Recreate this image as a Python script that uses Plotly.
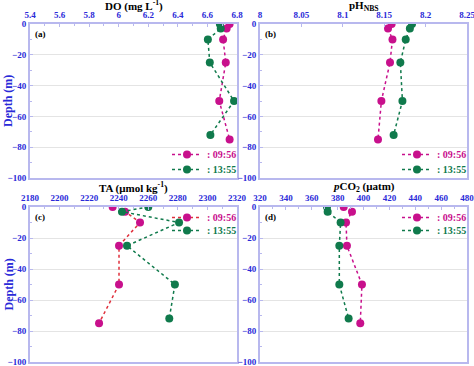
import plotly.graph_objects as go

# ---- data ----
depth_am = [0, -3, -10, -25, -50, -75]
depth_pm = [0, -3, -10, -25, -50, -72]

do_am = [6.75, 6.73, 6.706, 6.724, 6.68, 6.75]
do_pm = [6.684, 6.69, 6.603, 6.616, 6.78, 6.62]

ph_am = [8.159, 8.1546, 8.160, 8.157, 8.1466, 8.1425]
ph_pm = [8.1836, 8.181, 8.176, 8.1695, 8.172, 8.1614]

ta_am = [2235.9, 2244.3, 2254.4, 2240.2, 2240.2, 2226.7]
ta_pm = [2260.0, 2242.2, 2280.8, 2245.6, 2278.0, 2274.2]

pco2_am = [384.7, 391.1, 386.5, 387.2, 398.8, 397.5]
pco2_pm = [371.8, 372.3, 382.3, 381.3, 381.3, 388.5]

series_names = [": 09:56", ": 13:55"]
panel_labels = ["(a)", "(b)", "(c)", "(d)"]
x_titles = ["DO (mg L<sup>-1</sup>)", "pH<sub>NBS</sub>",
            "TA (\u03bcmol kg<sup>-1</sup>)", "<i>p</i>CO<sub>2</sub> (\u03bcatm)"]
y_title = "Depth (m)"

MAG = "#c8108c"
GRN = "#107a4c"
FONT = "Liberation Serif"
TICKC = "#2a2ad8"
AXC = "#b8b8ee"

W, H = 474, 366
ML, MR, MT, MB = 30, 7, 24, 4
PW, PH = W - ML - MR, H - MT - MB


def px_x(px):
    return (px - ML) / PW


def px_y(py):
    return (H - MB - py) / PH


fig = go.Figure()

panels = [
    (do_am, do_pm, "x", "y", [5.4, 6.8], 0.2, MAG),
    (ph_am, ph_pm, "x2", "y2", [8.0, 8.25], 0.05, MAG),
    (ta_am, ta_pm, "x3", "y3", [2180, 2320], 20, "#e0303c"),
    (pco2_am, pco2_pm, "x4", "y4", [320, 480], 20, MAG),
]

for i, (am, pm, xa, ya, rng, dt, amline) in enumerate(panels):
    fig.add_trace(go.Scatter(
        x=am, y=depth_am, xaxis=xa, yaxis=ya, mode="lines+markers",
        name=series_names[0], legend="legend" if i == 0 else f"legend{2*i+1}",
        line=dict(color=amline, dash="dot", width=1.5),
        marker=dict(color=MAG, size=8)))
    fig.add_trace(go.Scatter(
        x=pm, y=depth_pm, xaxis=xa, yaxis=ya, mode="lines+markers",
        name=series_names[1], legend=f"legend{2*i+2}",
        line=dict(color=GRN, dash="dot", width=1.5),
        marker=dict(color=GRN, size=8)))

xdoms_px = [(30, 237), (260, 467)]
ydoms_px = [(24, 178), (207, 362)]
xdoms = [[max(0, px_x(a)), min(1, px_x(b))] for a, b in xdoms_px]
ydoms = [[max(0, px_y(b)), min(1, px_y(a))] for a, b in ydoms_px]

layout = dict(
    width=W, height=H, margin=dict(l=ML, r=MR, t=MT, b=MB, autoexpand=False),
    plot_bgcolor="white", paper_bgcolor="white",
    font=dict(family=FONT, color="black"),
    showlegend=True,
)

for i, (am, pm, xa, ya, rng, dt, amline) in enumerate(panels):
    col = i % 2
    row = i // 2
    xk = "xaxis" if i == 0 else f"xaxis{i+1}"
    yk = "yaxis" if i == 0 else f"yaxis{i+1}"
    layout[xk] = dict(
        domain=xdoms[col], anchor=ya, side="top", range=rng, dtick=dt,
        automargin=False, ticklabeloverflow="allow",
        showgrid=False, zeroline=False, showline=True, linecolor=AXC,
        linewidth=2, mirror=True, ticks="inside", ticklen=3, tickcolor=AXC,
        minor=dict(ticks="inside", ticklen=2, tickcolor=AXC, nticks=2),
        tickfont=dict(family=FONT, size=9, color=TICKC, weight="bold"),
    )
    layout[yk] = dict(
        domain=ydoms[row], anchor=xa, range=[-100, 0], dtick=20,
        automargin=False, ticklabeloverflow="allow",
        showgrid=True, gridcolor="#e4e4e4", gridwidth=1, zeroline=False,
        showline=True, linecolor=AXC, linewidth=2, mirror=True,
        ticks="inside", ticklen=3, tickcolor=AXC,
        minor=dict(ticks="inside", ticklen=2, tickcolor=AXC, dtick=10),
        tickfont=dict(family=FONT, size=9, color=TICKC, weight="bold"),
    )

# legends (pixel tops)
leg_tops = {0: (140, 155), 1: (140, 155), 2: (203, 216), 3: (203, 216)}
for i in range(4):
    col = i % 2
    xr = px_x(xdoms_px[col][1] + 5)
    t1, t2 = leg_tops[i]
    k1 = "legend" if i == 0 else f"legend{2*i+1}"
    k2 = f"legend{2*i+2}"
    for k, yy, c in [(k1, px_y(t1), MAG), (k2, px_y(t2), GRN)]:
        layout[k] = dict(x=xr, y=yy, xanchor="right", yanchor="top",
                         bgcolor="rgba(0,0,0,0)", itemwidth=30,
                         font=dict(family=FONT, size=10, color=c, weight="bold"),
                         tracegroupgap=0)

fig.update_layout(**layout)

# axis titles and panel labels
title_y_px = [6, 187]
for i, lab in enumerate(panel_labels):
    col = i % 2
    row = i // 2
    fig.add_annotation(text=f"<b>{lab}</b>", xref="paper", yref="paper",
                       x=xdoms[col][0] + 0.008, y=ydoms[row][1] - 0.01,
                       xanchor="left", yanchor="top", showarrow=False,
                       font=dict(family=FONT, size=9, color="black"))
    cx = (xdoms_px[col][0] + xdoms_px[col][1]) / 2
    fig.add_annotation(text=f"<b>{x_titles[i]}</b>", xref="paper", yref="paper",
                       x=px_x(cx), y=px_y(title_y_px[row]),
                       xanchor="center", yanchor="middle", showarrow=False,
                       font=dict(family=FONT, size=11, color="black"))
    if col == 0:
        cy = (ydoms_px[row][0] + ydoms_px[row][1]) / 2
        fig.add_annotation(text=f"<b>{y_title}</b>", xref="paper", yref="paper",
                           x=px_x(8), y=px_y(cy), textangle=-90,
                           xanchor="center", yanchor="middle", showarrow=False,
                           font=dict(family=FONT, size=12, color=TICKC))

fig.write_html("out.html",
               config={"displayModeBar": False},
               post_script="document.body.style.margin='0px';"
                           "document.body.style.padding='0px';"
                           "document.body.style.overflow='hidden';"
                           "document.documentElement.style.overflow='hidden';")
